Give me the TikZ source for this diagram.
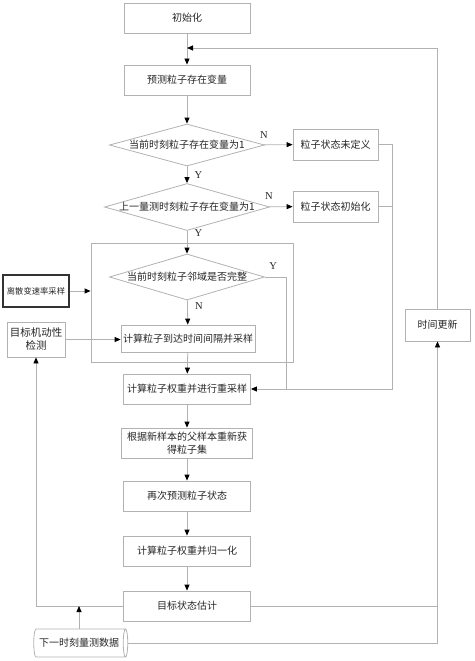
\documentclass[tikz,border=0pt]{standalone}
\usepackage{fontspec}
\setmainfont{Liberation Serif}
\newfontfamily\cjk{Noto Sans CJK SC}
\usetikzlibrary{shapes.geometric,arrows.meta}

\newcommand{\dtext}[1]{\makebox[0pt]{#1}}

\tikzset{
  ln/.style={draw=gray!60, line width=0.8pt},
  ar/.style={ln, -{Triangle[length=6pt,width=5pt,color=black]}},
  box/.style={ln, rectangle, align=center, inner sep=1pt, text=black!85},
  dec/.style={ln, diamond, inner sep=0pt, text=black!85},
  yn/.style={font=\rmfamily\fontsize{10.5}{11}\selectfont, text=black!85}
}

\begin{document}
\begin{tikzpicture}[x=1pt,y=-1pt, font=\cjk\fontsize{10}{12.5}\selectfont]
\useasboundingbox (0,0) rectangle (474,661);
% main column
\node[box, minimum width=126pt, minimum height=30pt] (init) at (187,18) {初始化};
\node[box, minimum width=126pt, minimum height=30pt] (pred) at (187,80) {预测粒子存在变量};
\node[dec, minimum width=155pt, minimum height=42pt] (d1) at (187,145) {\dtext{当前时刻粒子存在变量为1}};
\node[dec, minimum width=165pt, minimum height=47pt] (d2) at (187,207) {\dtext{上一量测时刻粒子存在变量为1}};
\node[box, minimum width=85pt, minimum height=31pt] (undef) at (335.5,144.5) {粒子状态未定义};
\node[box, minimum width=85pt, minimum height=31pt] (initst) at (335.5,206.5) {粒子状态初始化};
% group
\node[ln, rectangle, minimum width=202pt, minimum height=119pt] (grp) at (192,302.5) {};
\node[dec, minimum width=155pt, minimum height=46pt] (d3) at (187,277) {\dtext{当前时刻粒子邻域是否完整}};
\node[box, minimum width=134pt, minimum height=27pt] (arr) at (188,338.5) {计算粒子到达时间间隔并采样};
\node[box, draw=black!80, line width=1.4pt, minimum width=66pt, minimum height=32pt,
      font=\cjk\fontsize{8.3}{10}\selectfont] (disc) at (36,291) {离散变速率采样};
\node[box, minimum width=58pt, minimum height=35pt, font=\cjk\fontsize{10.5}{13}\selectfont] (mobil) at (36,339.5) {目标机动性\\检测};
% lower column
\node[box, minimum width=127pt, minimum height=30pt] (weight) at (187,389) {计算粒子权重并进行重采样};
\node[box, minimum width=131pt, minimum height=30pt] (resamp) at (187,443) {根据新样本的父样本重新获\\得粒子集};
\node[box, minimum width=127pt, minimum height=30pt] (repred) at (187,496) {再次预测粒子状态};
\node[box, minimum width=127pt, minimum height=30pt] (norm) at (187,551) {计算粒子权重并归一化};
\node[box, minimum width=127pt, minimum height=30pt] (est) at (187,606) {目标状态估计};
\node[box, minimum width=65pt, minimum height=32pt] (time) at (437.5,325) {时间更新};
\node[ln, cylinder, aspect=0.4, minimum width=28pt, minimum height=94pt, inner sep=1pt,
      text=black!85] (data) at (79,643) {下一时刻量测数据};
\coordinate (fb) at (187,48);
\coordinate (rc) at (392,389);

\draw[ar] (init) -- (pred);
\draw[ar] (pred) -- (d1);
\draw[ar] (d1) -- node[yn, pos=0, anchor=south, yshift=3pt] {N} (undef);
\draw[ar] (d1) -- node[yn, right=4pt] {Y} (d2);
\draw[ar] (d2) -- node[yn, pos=0, anchor=south, yshift=3pt] {N} (initst);
\draw[ar] (d2) -- node[yn, pos=0.1, right=4pt] {Y} (d3);
\draw[ar] (d3) -- node[yn, pos=0.25, right=4pt] {N} (arr);
\draw[ar] (arr) -- (weight);
\draw[ln] (d3.east) -- ++(21,0) |- (rc);
\draw[ln] (initst.east) -| (rc);
\draw[ar] (undef.east) -| (rc) -- (weight.east);
\node[yn, anchor=south west, xshift=1pt, yshift=4pt] at (d3.east) {Y};
\draw[ar] (disc.east) -- (disc.east -| grp.west);
\draw[ar] (mobil.east) -- (mobil.east -| arr.west);
\draw[ar] (weight) -- (resamp);
\draw[ar] (resamp) -- (repred);
\draw[ar] (repred) -- (norm);
\draw[ar] (norm) -- (est);
\draw[ar] (est.west) -| (mobil.south);
\draw[ar] (est.east) -| (time.south);
\draw[ar] (time.north) |- (fb);
\draw[ar] (data.north) -- (data.north |- est.west);
\draw[ln] (data.east) -| (est.east -| time.south);
\end{tikzpicture}
\end{document}
